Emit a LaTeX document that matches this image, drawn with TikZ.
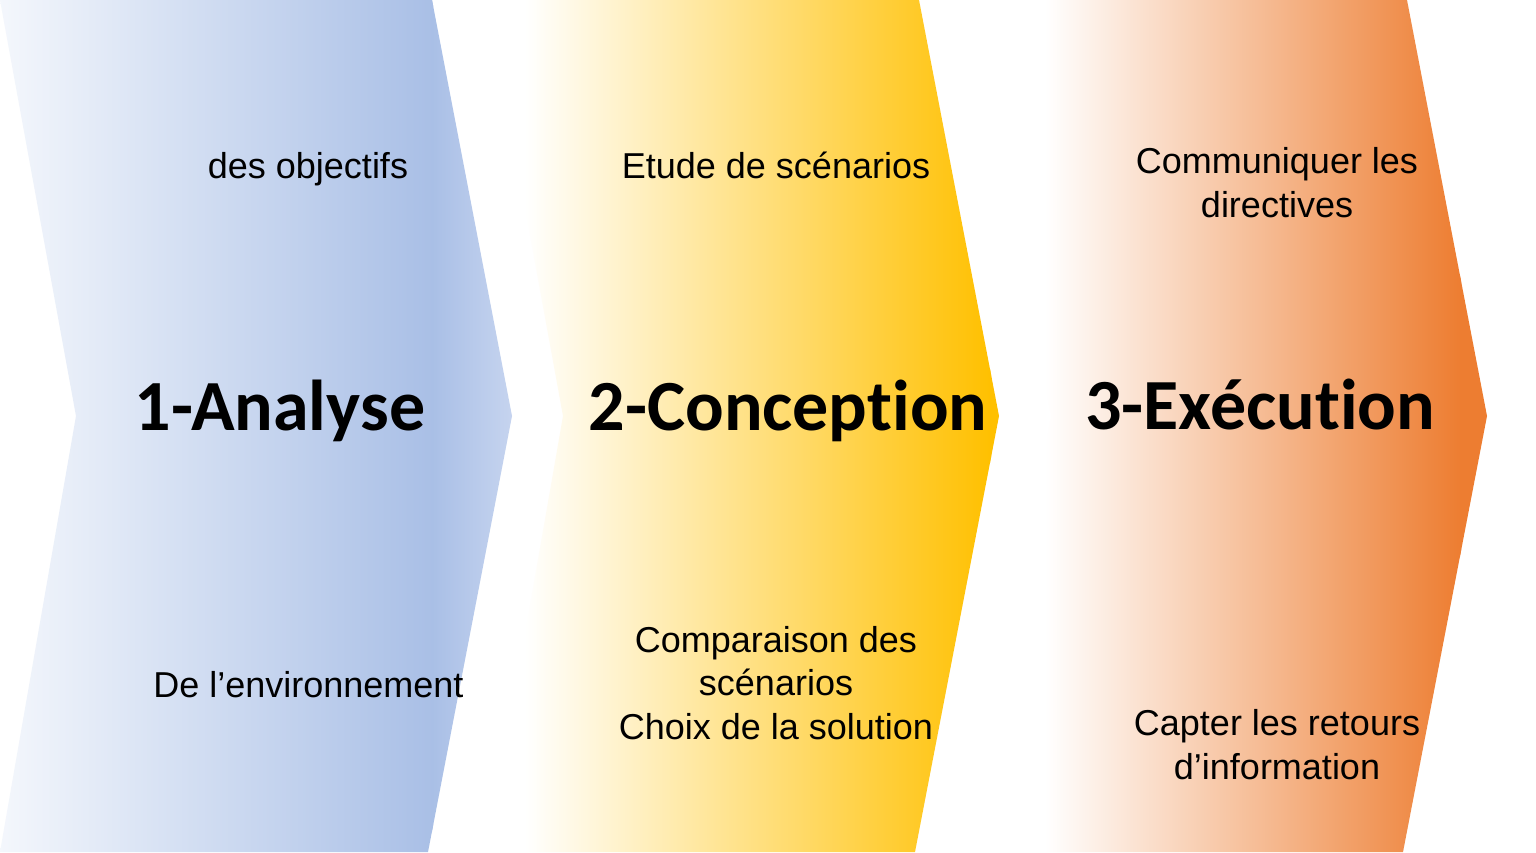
\documentclass[tikz,border=0pt]{standalone}
\usepackage{fontspec}
\setmainfont{Liberation Sans}
\newfontfamily\headfont{Carlito}[Ligatures=NoCommon]
\definecolor{bA}{HTML}{F4F7FC}
\definecolor{bB}{HTML}{A9BFE6}
\definecolor{bC}{HTML}{C6D4EF}
\definecolor{gA}{HTML}{FFC000}
\definecolor{oA}{HTML}{ED7D31}
\begin{document}
\begin{tikzpicture}[x=1pt,y=-1pt,
  sub/.style={inner sep=0pt, anchor=base, align=center, font=\fontsize{36}{43.5}\selectfont},
  head/.style={inner sep=0pt, anchor=base, font=\headfont\bfseries\fontsize{72}{80}\selectfont}]
\useasboundingbox (0,0) rectangle (1536,852);
\fill[white] (0,0) rectangle (1536,852);
% chevron 1
\begin{scope}
\clip (0,0) -- (432,0) -- (512,416) -- (428,852) -- (0,852) -- (76,416) -- cycle;
\shade[left color=bA, right color=bB] (-1,-1) rectangle (433,853);
\shade[left color=bB, right color=bC] (432,-1) rectangle (513,853);
\end{scope}
% chevron 2
\begin{scope}
\clip (487,0) -- (919,0) -- (999,416) -- (915,852) -- (487,852) -- (563,416) -- cycle;
\shade[left color=white, right color=gA] (525,-1) rectangle (991,853);
\fill[gA] (990,-1) rectangle (1000,853);
\end{scope}
% chevron 3
\begin{scope}
\clip (975,0) -- (1407,0) -- (1487,416) -- (1403,852) -- (975,852) -- (1051,416) -- cycle;
\shade[left color=white, right color=oA] (1045,-1) rectangle (1461,853);
\fill[oA] (1460,-1) rectangle (1488,853);
\end{scope}
% texts
\node[sub] (a1) at (308,178) {des objectifs};
\node[head] (a) at (280,430) {1-Analyse};
\node[sub] (a2) at (308.5,697) {De l’environnement};
\node[sub] (b1) at (776,178) {Etude de scénarios};
\node[head] (b) at (788,430) {2-Conception};
\node[sub] (b2) at (776,739) {Comparaison des\\scénarios\\Choix de la solution};
\node[sub] (c1) at (1277,217) {Communiquer les\\directives};
\node[head] (c) at (1260,429) {3-Exécution};
\node[sub] (c2) at (1277,779) {Capter les retours\\d’information};
\end{tikzpicture}
\end{document}
